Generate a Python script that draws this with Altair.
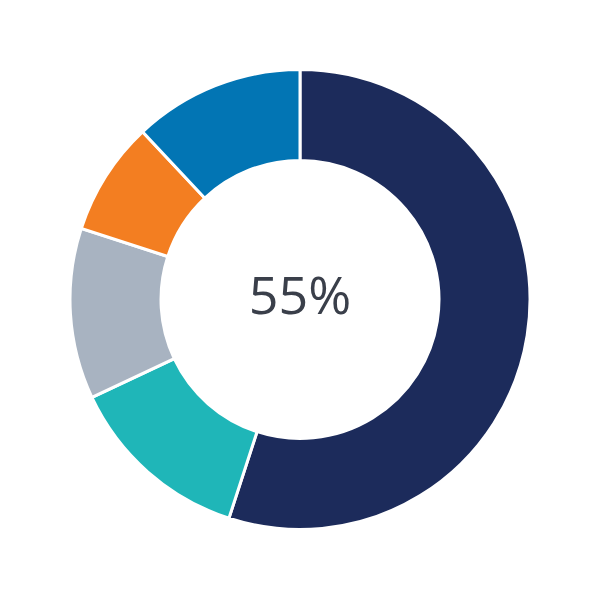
import altair as alt
import pandas as pd

categories = ["A", "B", "C", "D", "E"]
values = [55, 13, 12, 8, 12]
colors = ["#1c2b5b", "#1fb6b8", "#a8b3c1", "#f37e21", "#0275b4"]
center_label = "55%"

df = pd.DataFrame({"cat": categories, "value": values, "idx": list(range(len(values)))})

arc = alt.Chart(df).mark_arc(
    outerRadius=230, innerRadius=139, stroke="white", strokeWidth=3
).encode(
    theta=alt.Theta("value:Q", stack=True),
    color=alt.Color("cat:N", scale=alt.Scale(domain=categories, range=colors), legend=None),
    order=alt.Order("idx:Q"),
)

text = alt.Chart(pd.DataFrame({"t": [center_label]})).mark_text(
    font="Open Sans", fontSize=52, color="#3a3f4a", baseline="middle", align="center", dy=-2
).encode(text="t:N")

chart = alt.layer(arc, text).properties(width=584, height=583, padding=0).configure_view(stroke=None)

chart.save("out.html", embed_options={"renderer": "svg", "actions": False})
